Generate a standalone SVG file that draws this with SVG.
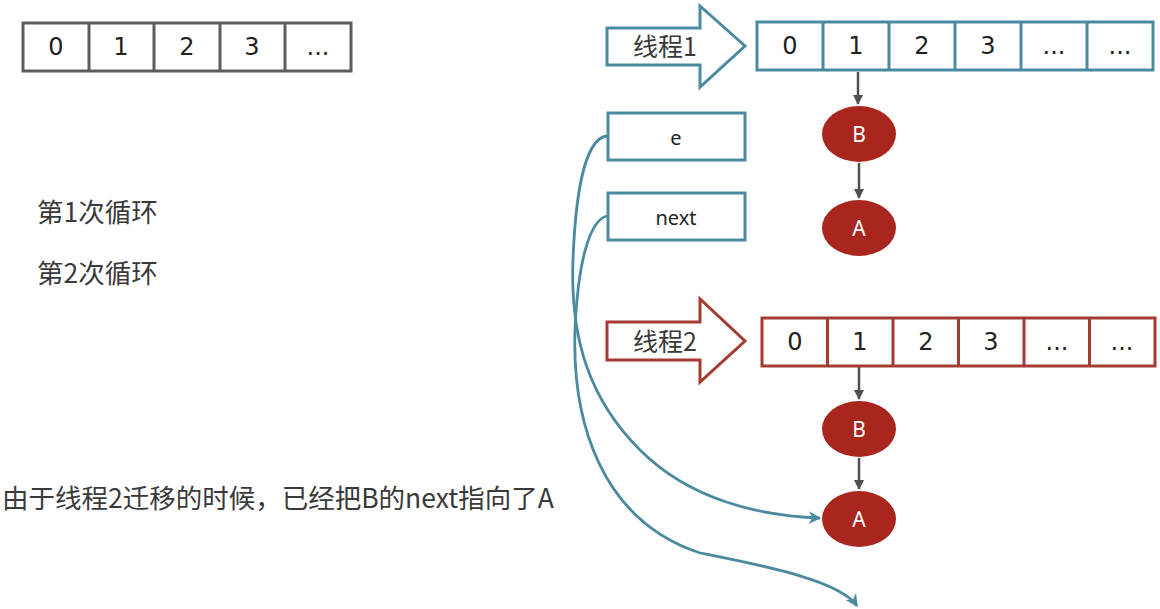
<svg xmlns="http://www.w3.org/2000/svg" width="1160" height="609" viewBox="0 0 1160 609">
<defs>
<style>
.cell{fill:#fff;stroke-width:3}
.gray{stroke:#5d5d5d}
.teal{stroke:#4b8aa0}
.red{stroke:#a53b33}
.num{font-family:"DejaVu Sans","Noto Sans",sans-serif;font-size:24px;fill:#222;text-anchor:middle;dominant-baseline:central}
.lab{font-family:"Noto Sans","Noto Sans CJK SC",sans-serif;font-size:20px;fill:#222;text-anchor:middle;dominant-baseline:central}
.cjk{font-family:"Noto Sans CJK SC",sans-serif;fill:#3a3a3a}
.node{fill:#a8261e}
.nt{font-family:"Noto Sans",sans-serif;font-size:21px;fill:#fff;text-anchor:middle;dominant-baseline:central}
.conn{fill:none;stroke:#505050;stroke-width:2.5}
.curve{fill:none;stroke:#4b8aa0;stroke-width:2.8}
</style>
<marker id="ga" viewBox="0 0 10 10" refX="9" refY="5" markerWidth="4" markerHeight="4" orient="auto" markerUnits="strokeWidth"><path d="M0,0 L10,5 L0,10 z" fill="#505050"/></marker>
<marker id="ta" viewBox="0 0 10 10" refX="9" refY="5" markerWidth="4.5" markerHeight="4.5" orient="auto" markerUnits="strokeWidth"><path d="M0,0 L10,5 L0,10 L3,5 z" fill="#4b8aa0"/></marker>
</defs>
<rect width="1160" height="609" fill="#fff"/>

<g id="array0">
<rect class="cell gray" x="23" y="23" width="328" height="48"/>
<path class="gray" stroke-width="3" d="M89 23V71M154 23V71M220 23V71M285 23V71"/>
<text class="num" x="56" y="47">0</text><text class="num" x="121" y="47">1</text><text class="num" x="187" y="47">2</text><text class="num" x="252" y="47">3</text><text class="num" x="318" y="47">...</text>
</g>

<g id="label-loop1"><text class="cjk" x="37" y="222" font-size="26.5">第1次循环</text></g>
<g id="label-loop2"><text class="cjk" x="37" y="283" font-size="26.5">第2次循环</text></g>
<g id="label-note"><text class="cjk" x="2" y="508" font-size="26.5">由于线程2迁移的时候，已经把B的next指向了A</text></g>

<g id="thread1">
<polygon class="teal" fill="#fff" stroke-width="3" points="607,28 700,28 700,6 745,46 700,87 700,65 607,65"/>
<text class="cjk" x="633" y="56" font-size="25">线程1</text>
</g>
<g id="array1">
<rect class="cell teal" x="757" y="22" width="396" height="48"/>
<path class="teal" stroke-width="3" d="M823 22V70M889 22V70M955 22V70M1021 22V70M1087 22V70"/>
<text class="num" x="790" y="46">0</text><text class="num" x="856" y="46">1</text><text class="num" x="922" y="46">2</text><text class="num" x="988" y="46">3</text><text class="num" x="1054" y="46">...</text><text class="num" x="1120" y="46">...</text>
</g>

<g id="var-e"><rect class="cell teal" x="608" y="113" width="137" height="47"/><text class="lab" x="676" y="137">e</text></g>
<g id="var-next"><rect class="cell teal" x="608" y="193" width="137" height="47"/><text class="lab" x="676" y="217">next</text></g>

<g id="node-B1"><ellipse class="node" cx="859" cy="134" rx="37" ry="28"/><text class="nt" x="859" y="134">B</text></g>
<g id="node-A1"><ellipse class="node" cx="859" cy="228" rx="37" ry="28"/><text class="nt" x="859" y="228">A</text></g>

<g id="thread2">
<polygon class="red" fill="#fff" stroke-width="3" points="607,322 700,322 700,299 745,341 700,382 700,360 607,360"/>
<text class="cjk" x="633" y="351" font-size="25">线程2</text>
</g>
<g id="array2">
<rect class="cell red" x="762" y="318" width="393" height="48"/>
<path class="red" stroke-width="3" d="M827.5 318V366M893 318V366M958.5 318V366M1024 318V366M1089.5 318V366"/>
<text class="num" x="795" y="342">0</text><text class="num" x="860" y="342">1</text><text class="num" x="926" y="342">2</text><text class="num" x="991" y="342">3</text><text class="num" x="1057" y="342">...</text><text class="num" x="1122" y="342">...</text>
</g>

<g id="node-B2"><ellipse class="node" cx="859" cy="429" rx="37" ry="28"/><text class="nt" x="859" y="429">B</text></g>
<g id="node-A2"><ellipse class="node" cx="859" cy="519" rx="37" ry="28"/><text class="nt" x="859" y="519">A</text></g>

<g id="connectors">
<line class="conn" x1="858" y1="72" x2="858" y2="104" marker-end="url(#ga)"/>
<line class="conn" x1="859" y1="163" x2="859" y2="198" marker-end="url(#ga)"/>
<line class="conn" x1="859" y1="367" x2="859" y2="399" marker-end="url(#ga)"/>
<line class="conn" x1="859" y1="458" x2="859" y2="489" marker-end="url(#ga)"/>
<path class="curve" d="M607 136 C588 138,576 180,573 260 C570 340,590 400,640 450 C690 500,760 516,820 518" marker-end="url(#ta)"/>
<path class="curve" d="M607 216 C590 220,578 260,575 330 C572 420,600 520,700 553 C760 565,840 580,857 606" marker-end="url(#ta)"/>
</g>
</svg>
